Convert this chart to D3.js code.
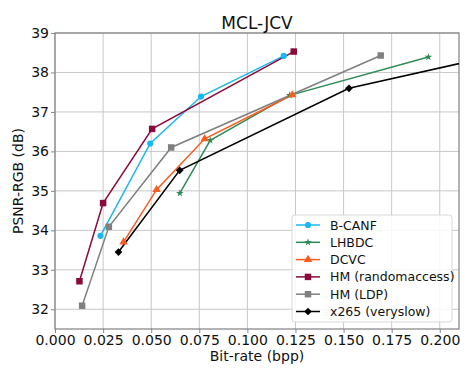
<!DOCTYPE html>
<html><head><meta charset="utf-8">
<script src="https://cdn.jsdelivr.net/npm/d3@7"></script>
<style>body{margin:0;background:#fff;} svg{display:block;font-family:"DejaVu Sans",sans-serif;}</style>
</head><body><svg id="c" width="474" height="379"></svg>
<script>
const seriesNames = ["B-CANF","LHBDC","DCVC","HM (randomaccess)","HM (LDP)","x265 (veryslow)"];
const bcanfX = [0.0236,0.0495,0.0759,0.1189];
const bcanfY = [33.86,36.20,37.39,38.42];
const lhbdcX = [0.0649,0.0807,0.1220,0.1941];
const lhbdcY = [34.94,36.28,37.42,38.39];
const dcvcX = [0.0356,0.0528,0.0778,0.1233];
const dcvcY = [33.70,35.03,36.32,37.43];
const hmraX = [0.0127,0.0250,0.0505,0.1241];
const hmraY = [32.71,34.69,36.57,38.53];
const hmldpX = [0.0141,0.0280,0.0604,0.1693];
const hmldpY = [32.09,34.09,36.10,38.43];
const x265X = [0.0330,0.0648,0.1528,0.2600];
const x265Y = [33.45,35.52,37.60,38.77];
const xTicks = [0,0.025,0.05,0.075,0.1,0.125,0.15,0.175,0.2];
const yTicks = [32,33,34,35,36,37,38,39];

const colors = ["#1ab8f0","#2e8b57","#ff5a1e","#8b0a3c","#808080","#000000"];
const markers = ["circle","star","triangle","square","square","diamond"];
const data = [[bcanfX,bcanfY],[lhbdcX,lhbdcY],[dcvcX,dcvcY],[hmraX,hmraY],[hmldpX,hmldpY],[x265X,x265Y]]
  .map((s,i)=>({name:seriesNames[i],color:colors[i],marker:markers[i],pts:s[0].map((x,j)=>[x,s[1][j]])}));

const m={l:55,r:459,t:33,b:329};
const svg=d3.select("#c");
const x=d3.scaleLinear().domain([0,0.21]).range([m.l,m.r]);
const y=d3.scaleLinear().domain([31.5,39]).range([m.b,m.t]);

svg.append("defs").append("clipPath").attr("id","clip").append("rect")
  .attr("x",m.l).attr("y",m.t).attr("width",m.r-m.l).attr("height",m.b-m.t);

// grid
const g=svg.append("g");
g.selectAll(".gx").data(xTicks).enter().append("line")
  .attr("x1",d=>x(d)).attr("x2",d=>x(d)).attr("y1",m.t).attr("y2",m.b)
  .attr("stroke","#c8c8c8").attr("stroke-width",1);
g.selectAll(".gy").data(yTicks).enter().append("line")
  .attr("y1",d=>y(d)).attr("y2",d=>y(d)).attr("x1",m.l).attr("x2",m.r)
  .attr("stroke","#c8c8c8").attr("stroke-width",1);

// axes
const xa=svg.append("g").attr("transform",`translate(0,${m.b})`)
  .call(d3.axisBottom(x).tickValues(xTicks).tickFormat(d3.format(".3f")).tickSize(4).tickPadding(2));
const ya=svg.append("g").attr("transform",`translate(${m.l},0)`)
  .call(d3.axisLeft(y).tickValues(yTicks).tickFormat(d3.format("d")).tickSize(4).tickPadding(2));
[xa,ya].forEach(a=>{a.select(".domain").remove();a.selectAll("line").attr("stroke","#888");
  a.selectAll("text").attr("font-size",14).attr("fill","#111").attr("font-family","DejaVu Sans");});

svg.append("rect").attr("x",m.l).attr("y",m.t).attr("width",m.r-m.l).attr("height",m.b-m.t)
  .attr("fill","none").attr("stroke","#808080").attr("stroke-width",1.2);

const sym={circle:d3.symbolCircle,star:d3.symbolStar,triangle:d3.symbolTriangle,square:d3.symbolSquare,diamond:d3.symbolSquare};
const size={circle:30,star:18,triangle:30,square:42,diamond:30};
const rot={diamond:45};
const line=d3.line().x(d=>x(d[0])).y(d=>y(d[1]));
const plot=svg.append("g").attr("clip-path","url(#clip)");
data.forEach(s=>{
  plot.append("path").attr("d",line(s.pts)).attr("fill","none").attr("stroke",s.color).attr("stroke-width",1.5);
});
data.forEach(s=>{
  plot.selectAll(null).data(s.pts).enter().append("path")
    .attr("transform",d=>`translate(${x(d[0])},${y(d[1])}) rotate(${rot[s.marker]||0})`)
    .attr("d",d3.symbol().type(sym[s.marker]).size(size[s.marker])).attr("fill",s.color);
});

// title & labels
svg.append("text").attr("x",(m.l+m.r)/2).attr("y",29).attr("text-anchor","middle")
  .attr("font-size",17).attr("fill","#111").text("MCL-JCV");
svg.append("text").attr("x",(m.l+m.r)/2).attr("y",361).attr("text-anchor","middle")
  .attr("font-size",14).attr("fill","#111").text("Bit-rate (bpp)");
svg.append("text").attr("transform",`translate(23,${(m.t+m.b)/2}) rotate(-90)`).attr("text-anchor","middle")
  .attr("font-size",14).attr("fill","#111").text("PSNR-RGB (dB)");

// legend
const lg=svg.append("g");
lg.append("rect").attr("x",292).attr("y",215).attr("width",160).attr("height",107).attr("rx",3)
  .attr("fill","#fff").attr("fill-opacity",0.85).attr("stroke","#d8d8d8");
data.forEach((s,i)=>{
  const yy=225+i*17.3;
  lg.append("line").attr("x1",296).attr("x2",320).attr("y1",yy).attr("y2",yy).attr("stroke",s.color).attr("stroke-width",1.5);
  lg.append("path").attr("transform",`translate(308,${yy}) rotate(${rot[s.marker]||0})`).attr("d",d3.symbol().type(sym[s.marker]).size(size[s.marker])).attr("fill",s.color);
  lg.append("text").attr("x",330).attr("y",yy+4.5).attr("font-size",12.5).attr("fill","#111").text(s.name);
});
</script></body></html>
